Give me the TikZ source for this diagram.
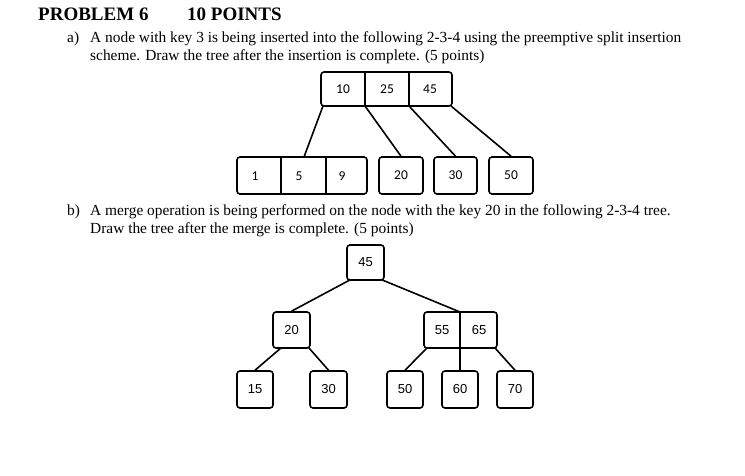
\documentclass[tikz,border=0pt]{standalone}
\usepackage{fontspec}
\setmainfont{Liberation Serif}
\newfontfamily\calfnt{Carlito}
\newfontfamily\arifnt{Liberation Sans}
\begin{document}
\begin{tikzpicture}[x=1pt,y=-1pt,
  box/.style={draw,line width=1.6pt,rounded corners=3pt},
  edge/.style={line width=1.6pt},
  ta/.style={font=\calfnt\fontsize{13.5}{15}\selectfont},
  tb/.style={font=\arifnt\fontsize{13}{15}\selectfont},
  body/.style={anchor=west,font=\fontsize{15.4}{17}\selectfont,inner sep=0pt}]
\useasboundingbox (0,0) rectangle (745,476);
\node[anchor=west,inner sep=0pt,font=\bfseries\fontsize{19}{21}\selectfont] (h1) at (38,14) {PROBLEM 6};
\node[anchor=west,inner sep=0pt,font=\bfseries\fontsize{19}{21}\selectfont] (h2) at (187,14) {10 POINTS};
\node[body] (a1) at (67,39) {a)};
\node[body] (a2) at (90,39) {A node with key 3 is being inserted into the following 2-3-4 using the preemptive split insertion};
\node[body] (a3) at (90,57) {scheme. Draw the tree after the insertion is complete. (5 points)};
\node[body] (b1) at (67,212) {b)};
\node[body] (b2) at (90,212) {A merge operation is being performed on the node with the key 20 in the following 2-3-4 tree.};
\node[body] (b3) at (90,230) {Draw the tree after the merge is complete. (5 points)};
% part a
\draw[box] (321,72) rectangle (452,106);
\draw[edge] (365,72) coordinate (d1) -- (365,106) coordinate (d1b);
\draw[edge] (409,72) coordinate (d2) -- (409,106) coordinate (d2b);
\node[ta] (k10) at (343,89) {10};
\node[ta] (k25) at (387,89) {25};
\node[ta] (k45) at (430,89) {45};
\draw[box] (237,157) rectangle (367,194);
\draw[edge] (281,157) -- (281,194);
\draw[edge] (326,157) -- (326,194);
\node[ta] (k1) at (255,176) {1};
\node[ta] (k5) at (299,176) {5};
\node[ta] (k9) at (342,176) {9};
\node[box,minimum width=44pt,minimum height=37pt,ta] (k20) at (401,175.5) {20};
\node[box,minimum width=43pt,minimum height=37pt,ta] (k30) at (455.5,175.5) {30};
\node[box,minimum width=44pt,minimum height=37pt,ta] (k50) at (511,175.5) {50};
\coordinate (p0) at (323,106);
\coordinate (p3) at (451,106);
\coordinate (c1) at (304,157);
\draw[edge] (p0) -- (c1);
\draw[edge] (d1b) -- (k20.north);
\draw[edge] (d2b) -- (k30.north);
\draw[edge] (p3) -- (k50.north);
% part b
\node[box,minimum width=37pt,minimum height=35pt,tb] (r45) at (365.5,262.5) {45};
\node[box,minimum width=37pt,minimum height=36pt,tb] (n20) at (291.5,330) {20};
\draw[box] (424,312) rectangle (497,348);
\coordinate (dv) at (460,312);
\node[tb] (n55) at (442,330) {55};
\node[tb] (n65) at (479,330) {65};
\node[box,minimum width=36pt,minimum height=37pt,tb] (n15) at (255,389.5) {15};
\node[box,minimum width=37pt,minimum height=37pt,tb] (n30) at (328.5,389.5) {30};
\node[box,minimum width=36pt,minimum height=37pt,tb] (n50) at (405,389.5) {50};
\node[box,minimum width=36pt,minimum height=37pt,tb] (n60) at (460,389.5) {60};
\node[box,minimum width=36pt,minimum height=37pt,tb] (n70) at (515,389.5) {70};
\draw[edge] (r45.south west) ++(4,-1) -- (n20.north);
\draw[edge] (r45.south east) ++(-3,-1) -- (dv) -- (n60.north);
\draw[edge] (n20.south west) ++(9,-1) -- (n15.north);
\draw[edge] (n20.south east) ++(-2,-1) -- (n30.north);
\coordinate (q1) at (427,348);
\coordinate (q2) at (495,348);
\draw[edge] (q1) -- (n50.north);
\draw[edge] (q2) -- (n70.north);
\end{tikzpicture}
\end{document}
